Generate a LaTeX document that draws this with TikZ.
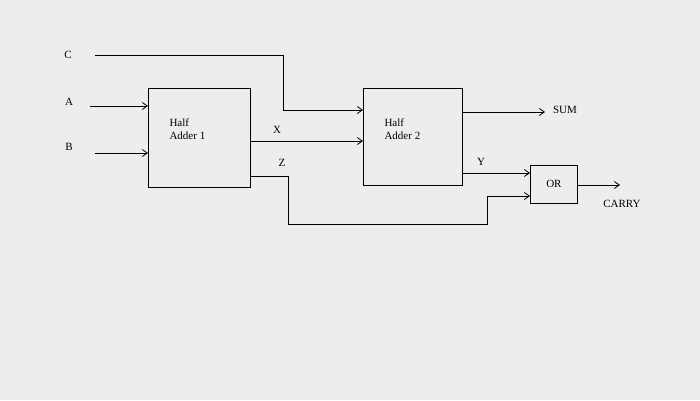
\documentclass[tikz,border=0pt]{standalone}
\usepackage{fontspec}
\setmainfont{Liberation Serif}
\usetikzlibrary{arrows.meta}
\definecolor{bg}{HTML}{EDEDED}
\begin{document}
\begin{tikzpicture}[x=1pt,y=-1pt,
  blk/.style={draw,line width=0.8pt,anchor=north west,inner sep=0pt},
  wire/.style={line width=0.8pt},
  arr/.style={wire,-{Straight Barb[length=5pt,width=7pt]}},
  lbl/.style={font=\fontsize{11}{13}\selectfont},
  txt/.style={font=\fontsize{11}{13}\selectfont,align=left,anchor=north west}]
\fill[bg] (0,0) rectangle (700,400);
\useasboundingbox (0,0) rectangle (700,400);
\node[blk,minimum width=102pt,minimum height=99pt] (ha1) at (148,88) {};
\node[blk,minimum width=99pt,minimum height=97pt] (ha2) at (363,88) {};
\node[blk,minimum width=47pt,minimum height=38pt] (or) at (530,165) {};
\node[txt] (t1) at (166,115) {Half\\ Adder 1};
\node[txt] (t2) at (381,115) {Half\\ Adder 2};
\node[lbl] (ort) at (or.center) {OR};
\node[lbl] (c) at (68,55) {C};
\node[lbl] (a) at (69,102) {A};
\node[lbl] (b) at (69,147) {B};
\node[lbl] (x) at (277,130) {X};
\node[lbl] (z) at (282,163) {Z};
\node[lbl] (y) at (481,162) {Y};
\node[lbl] (sum) at (565,110) {SUM};
\node[lbl] (carry) at (622,204) {CARRY};
\coordinate (cs) at (95,55);
\coordinate (as) at (90,106);
\coordinate (bs) at (95,153);
\coordinate (sumend) at (545,112);
\coordinate (cend) at (620,185);
\draw[arr] (cs) -| (283,110) -- (ha2.west |- 0,110);
\draw[arr] (as) -- (ha1.west |- as);
\draw[arr] (bs) -- (ha1.west |- bs);
\draw[arr] (ha1.east |- 0,141) -- (ha2.west |- 0,141);
\draw[arr] (ha2.east |- sumend) -- (sumend);
\draw[arr] (ha2.east |- 0,173) -- (or.west |- 0,173);
\draw[arr] (ha1.east |- 0,176) -- (288,176) -- (288,224) -- (487,224) -- (487,196) -- (or.west |- 0,196);
\draw[arr] (or.east |- cend) -- (cend);
\end{tikzpicture}
\end{document}
